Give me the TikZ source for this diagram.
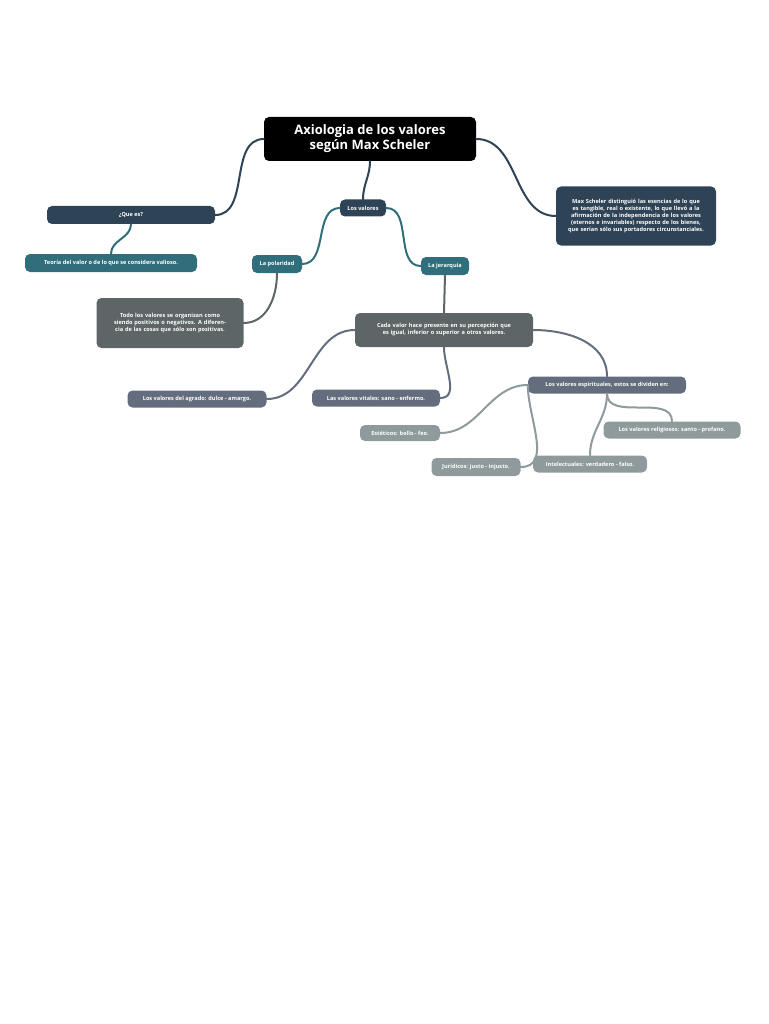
\documentclass[tikz,border=0pt]{standalone}
\usepackage{fontspec}
\setmainfont{Open Sans}
\definecolor{navy}{HTML}{2F4356}
\definecolor{teal2}{HTML}{2F6E7A}
\definecolor{gray2}{HTML}{5D6566}
\definecolor{slate}{HTML}{636D7E}
\definecolor{lgray}{HTML}{8E9A9B}
\begin{document}
\begin{tikzpicture}[x=1pt,y=-1pt,
  box/.style={rounded corners=5pt,text=white,font=\fontsize{5.6}{7}\selectfont\bfseries,align=center,inner sep=2pt},
  lnk/.style={line width=2pt,line cap=round}]
\useasboundingbox (0,0) rectangle (768,1024);
\node[box,fill=black,minimum width=212,minimum height=44,font=\fontsize{13}{15}\selectfont\bfseries] (t) at (370,139) {Axiologia de los valores\\según Max Scheler};
\node[box,fill=navy,minimum width=168,minimum height=18] (q) at (131,215) {¿Que es?};
\node[box,fill=teal2,minimum width=172,minimum height=18] (teo) at (111,263) {Teoría del valor o de lo que se considera valioso.};
\node[box,fill=navy,minimum width=46,minimum height=17] (lv) at (363,208) {Los valores};
\node[box,fill=teal2,minimum width=50,minimum height=18] (pol) at (277,264) {La polaridad};
\node[box,fill=teal2,minimum width=48,minimum height=18] (jer) at (445,266) {La jerarquía};
\node[box,fill=navy,minimum width=160,minimum height=59,text width=152] (mx) at (636,216) {Max Scheler distinguió las esencias de lo que es tangible, real o existente, lo que llevó a la afirmación de la independencia de los valores (eternos e invariables) respecto de los bienes, que serían sólo sus portadores circunstanciales.};
\node[box,fill=gray2,minimum width=147,minimum height=50,text width=140] (todo) at (170,323) {Todo los valores se organizan como siendo positivos o negativos. A diferencia de las cosas que sólo son positivas.};
\node[box,fill=gray2,minimum width=178,minimum height=34,text width=172] (cada) at (444,330) {Cada valor hace presente en su percepción que es igual, inferior o superior a otros valores.};
\node[box,fill=slate,minimum width=139,minimum height=17] (agr) at (197,399) {Los valores del agrado: dulce - amargo.};
\node[box,fill=slate,minimum width=128,minimum height=17] (vit) at (376,398) {Las valores vitales: sano - enfermo.};
\node[box,fill=slate,minimum width=158,minimum height=17] (esp) at (607,385) {Los valores espirituales, estos se dividen en:};
\node[box,fill=lgray,minimum width=80,minimum height=16] (est) at (400,433) {Estéticos: bello - feo.};
\node[box,fill=lgray,minimum width=89,minimum height=18] (jur) at (476,467) {Jurídicos: justo - injusto.};
\node[box,fill=lgray,minimum width=114,minimum height=17] (int) at (590,464) {Intelectuales: verdadero - falso.};
\node[box,fill=lgray,minimum width=137,minimum height=17] (rel) at (672,430) {Los valores religiosos: santo - profano.};
\begin{scope}[on background layer/.style={}]
\draw[lnk,navy] (t.west) to[out=180,in=0] (q.east);
\draw[lnk,navy] (t.south) to[out=-90,in=90] (lv.north);
\draw[lnk,navy] (t.east) to[out=0,in=180] (mx.west);
\draw[lnk,teal2] (q.south) to[out=-90,in=90] (teo.north);
\draw[lnk,teal2] (lv.west) to[out=180,in=0] (pol.east);
\draw[lnk,teal2] (lv.east) to[out=0,in=180] (jer.west);
\draw[lnk,gray2] (pol.south) to[out=-90,in=0] (todo.east);
\draw[lnk,gray2] (jer.south) -- (cada.north);
\draw[lnk,slate] (cada.west) to[out=180,in=0] (agr.east);
\draw[lnk,slate] (cada.south) to[out=-90,in=0] (vit.east);
\draw[lnk,slate] (cada.east) to[out=0,in=90] (esp.north);
\draw[lnk,lgray] (esp.west) to[out=180,in=0] (est.east);
\draw[lnk,lgray] (esp.west) to[out=-90,in=0] (jur.east);
\draw[lnk,lgray] (esp.south) to[out=-90,in=90] (int.north);
\draw[lnk,lgray] (esp.south) to[out=-90,in=90] (rel.north);
\end{scope}
\end{tikzpicture}
\end{document}
